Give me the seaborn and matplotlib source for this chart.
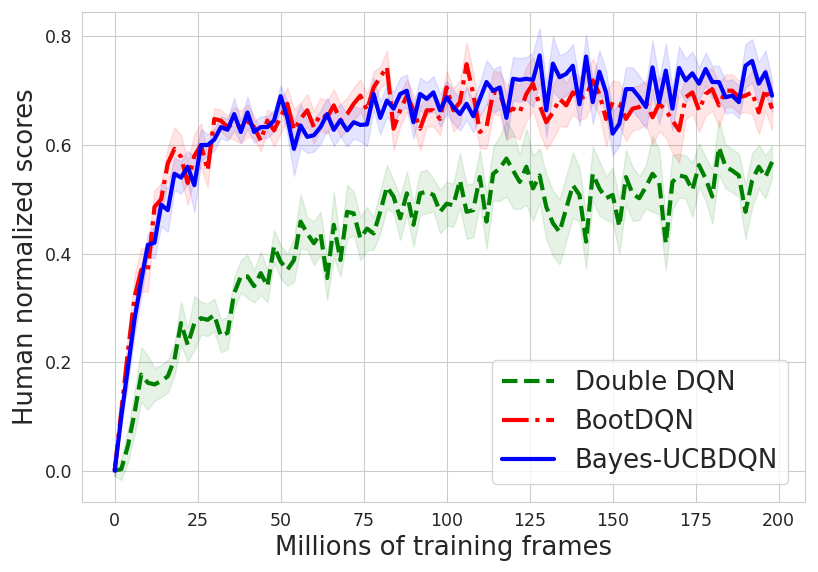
import numpy as np
import pandas as pd
import matplotlib
matplotlib.use('Agg')
import matplotlib.pyplot as plt
import seaborn as sns

# training frames (millions), one evaluation every 2M frames
frames = list(range(0, 200, 2))

double_dqn = [0.0, 0.003, 0.046, 0.107, 0.177, 0.162, 0.159, 0.165, 0.174, 0.205,
              0.272, 0.232, 0.272, 0.281, 0.278, 0.287, 0.248, 0.254, 0.327, 0.358,
              0.358, 0.34, 0.364, 0.34, 0.413, 0.385, 0.37, 0.388, 0.459, 0.437,
              0.419, 0.437, 0.355, 0.453, 0.388, 0.477, 0.474, 0.428, 0.446, 0.437,
              0.477, 0.523, 0.505, 0.465, 0.511, 0.453, 0.511, 0.514, 0.508, 0.477,
              0.492, 0.489, 0.535, 0.477, 0.48, 0.541, 0.459, 0.547, 0.557, 0.575,
              0.553, 0.532, 0.56, 0.52, 0.544, 0.486, 0.456, 0.44, 0.483, 0.526,
              0.508, 0.422, 0.547, 0.52, 0.502, 0.508, 0.45, 0.541, 0.51, 0.502,
              0.523, 0.547, 0.532, 0.419, 0.532, 0.544, 0.541, 0.517, 0.563, 0.538,
              0.505, 0.596, 0.56, 0.553, 0.544, 0.477, 0.535, 0.56, 0.541, 0.569]

boot_dqn = [0.0, 0.11, 0.22, 0.32, 0.37, 0.37, 0.486, 0.5, 0.566, 0.593,
            0.578, 0.53, 0.58, 0.6, 0.553, 0.648, 0.645, 0.633, 0.64, 0.633,
            0.645, 0.633, 0.608, 0.645, 0.627, 0.652, 0.676, 0.627, 0.648, 0.664,
            0.633, 0.657, 0.651, 0.673, 0.645, 0.657, 0.676, 0.691, 0.664, 0.706,
            0.725, 0.744, 0.63, 0.664, 0.691, 0.664, 0.63, 0.664, 0.664, 0.648,
            0.706, 0.664, 0.679, 0.749, 0.694, 0.624, 0.633, 0.697, 0.694, 0.66,
            0.667, 0.66, 0.694, 0.713, 0.673, 0.642, 0.66, 0.685, 0.673, 0.697,
            0.685, 0.691, 0.719, 0.694, 0.648, 0.679, 0.676, 0.648, 0.667, 0.67,
            0.679, 0.651, 0.676, 0.664, 0.645, 0.627, 0.688, 0.697, 0.664, 0.694,
            0.703, 0.673, 0.7, 0.7, 0.688, 0.691, 0.697, 0.66, 0.703, 0.667]

bayes_ucb = [0.0, 0.1, 0.19, 0.28, 0.35, 0.416, 0.42, 0.49, 0.48, 0.547,
             0.54, 0.56, 0.526, 0.6, 0.6, 0.61, 0.633, 0.628, 0.657, 0.624,
             0.66, 0.624, 0.633, 0.633, 0.645, 0.69, 0.65, 0.593, 0.636, 0.615,
             0.618, 0.633, 0.657, 0.628, 0.646, 0.627, 0.642, 0.637, 0.638, 0.694,
             0.65, 0.682, 0.667, 0.694, 0.7, 0.642, 0.694, 0.685, 0.697, 0.664,
             0.688, 0.67, 0.657, 0.676, 0.653, 0.685, 0.716, 0.7, 0.706, 0.65,
             0.722, 0.72, 0.722, 0.72, 0.765, 0.664, 0.75, 0.725, 0.731, 0.746,
             0.675, 0.763, 0.679, 0.735, 0.697, 0.621, 0.639, 0.703, 0.703, 0.688,
             0.67, 0.743, 0.679, 0.737, 0.667, 0.742, 0.719, 0.732, 0.713, 0.74,
             0.716, 0.716, 0.688, 0.691, 0.679, 0.746, 0.755, 0.713, 0.734, 0.691]

# half width of the shaded confidence band
double_dqn_ci = [0.01, 0.02, 0.03, 0.04, 0.05, 0.05, 0.03, 0.03, 0.03, 0.03,
                 0.04, 0.03, 0.05, 0.03, 0.03, 0.03, 0.03, 0.03, 0.03, 0.03,
                 0.04, 0.03, 0.04, 0.03, 0.03, 0.03, 0.03, 0.04, 0.05, 0.03,
                 0.04, 0.04, 0.04, 0.06, 0.03, 0.05, 0.04, 0.04, 0.04, 0.03,
                 0.04, 0.04, 0.03, 0.04, 0.04, 0.04, 0.04, 0.04, 0.03, 0.04,
                 0.04, 0.04, 0.05, 0.05, 0.05, 0.05, 0.05, 0.05, 0.06, 0.07,
                 0.07, 0.05, 0.07, 0.06, 0.05, 0.06, 0.06, 0.06, 0.06, 0.06,
                 0.05, 0.05, 0.05, 0.05, 0.04, 0.05, 0.05, 0.05, 0.05, 0.04,
                 0.04, 0.07, 0.06, 0.05, 0.05, 0.04, 0.04, 0.05, 0.04, 0.04,
                 0.05, 0.05, 0.04, 0.04, 0.04, 0.05, 0.05, 0.04, 0.04, 0.03]

boot_dqn_ci = [0.01, 0.02, 0.03, 0.04, 0.04, 0.04, 0.03, 0.03, 0.03, 0.04,
               0.04, 0.04, 0.04, 0.04, 0.03, 0.02, 0.02, 0.02, 0.03, 0.03,
               0.03, 0.02, 0.02, 0.02, 0.03, 0.03, 0.03, 0.04, 0.03, 0.03,
               0.03, 0.03, 0.03, 0.03, 0.03, 0.03, 0.03, 0.03, 0.03, 0.03,
               0.02, 0.03, 0.04, 0.03, 0.03, 0.03, 0.04, 0.03, 0.03, 0.03,
               0.03, 0.04, 0.04, 0.04, 0.04, 0.03, 0.04, 0.04, 0.04, 0.05,
               0.05, 0.05, 0.05, 0.05, 0.05, 0.05, 0.05, 0.05, 0.04, 0.04,
               0.04, 0.04, 0.04, 0.04, 0.05, 0.04, 0.04, 0.04, 0.04, 0.04,
               0.04, 0.05, 0.05, 0.05, 0.06, 0.06, 0.04, 0.04, 0.04, 0.04,
               0.04, 0.04, 0.03, 0.03, 0.03, 0.03, 0.04, 0.04, 0.04, 0.04]

bayes_ucb_ci = [0.01, 0.02, 0.03, 0.03, 0.03, 0.02, 0.03, 0.04, 0.04, 0.03,
                0.03, 0.03, 0.05, 0.03, 0.02, 0.02, 0.02, 0.02, 0.03, 0.02,
                0.03, 0.02, 0.02, 0.02, 0.02, 0.02, 0.03, 0.05, 0.04, 0.03,
                0.03, 0.03, 0.03, 0.03, 0.03, 0.03, 0.03, 0.03, 0.04, 0.03,
                0.03, 0.03, 0.03, 0.03, 0.03, 0.03, 0.03, 0.03, 0.03, 0.03,
                0.03, 0.03, 0.03, 0.03, 0.03, 0.03, 0.04, 0.04, 0.04, 0.04,
                0.04, 0.04, 0.04, 0.05, 0.05, 0.05, 0.05, 0.04, 0.04, 0.04,
                0.04, 0.04, 0.04, 0.04, 0.04, 0.04, 0.04, 0.04, 0.04, 0.04,
                0.04, 0.05, 0.04, 0.05, 0.04, 0.04, 0.04, 0.04, 0.03, 0.03,
                0.03, 0.03, 0.03, 0.03, 0.03, 0.04, 0.04, 0.04, 0.04, 0.03]

series = [
    ('Double DQN', double_dqn, double_dqn_ci, 'green', '--'),
    ('BootDQN', boot_dqn, boot_dqn_ci, 'red', '-.'),
    ('Bayes-UCBDQN', bayes_ucb, bayes_ucb_ci, 'blue', '-'),
]

sns.set_style('whitegrid')

fig, ax = plt.subplots(figsize=(8.18, 5.72), dpi=100)
fig.subplots_adjust(left=0.1, right=0.984, top=0.979, bottom=0.122)

for name, vals, ci, color, ls in series:
    df = pd.DataFrame({'frames': frames, 'score': vals, 'ci': ci})
    ax.fill_between(df['frames'], df['score'] - df['ci'], df['score'] + df['ci'],
                    color=color, alpha=0.1, linewidth=1)
    sns.lineplot(data=df, x='frames', y='score', color=color, linestyle=ls,
                 linewidth=3, label=name, ax=ax)

ax.set_ylim(-0.058, 0.845)
ax.set_xticks([0, 25, 50, 75, 100, 125, 150, 175, 200])
ax.set_yticks([0.0, 0.2, 0.4, 0.6, 0.8])
ax.tick_params(labelsize=12.5)
ax.set_xlabel('Millions of training frames', fontsize=18.6)
ax.set_ylabel('Human normalized scores', fontsize=18.6)
ax.legend(loc='lower right', fontsize=18.7, handlelength=2.0,
          bbox_to_anchor=(0.995, 0.01))

plt.savefig('out.png', dpi=100)
